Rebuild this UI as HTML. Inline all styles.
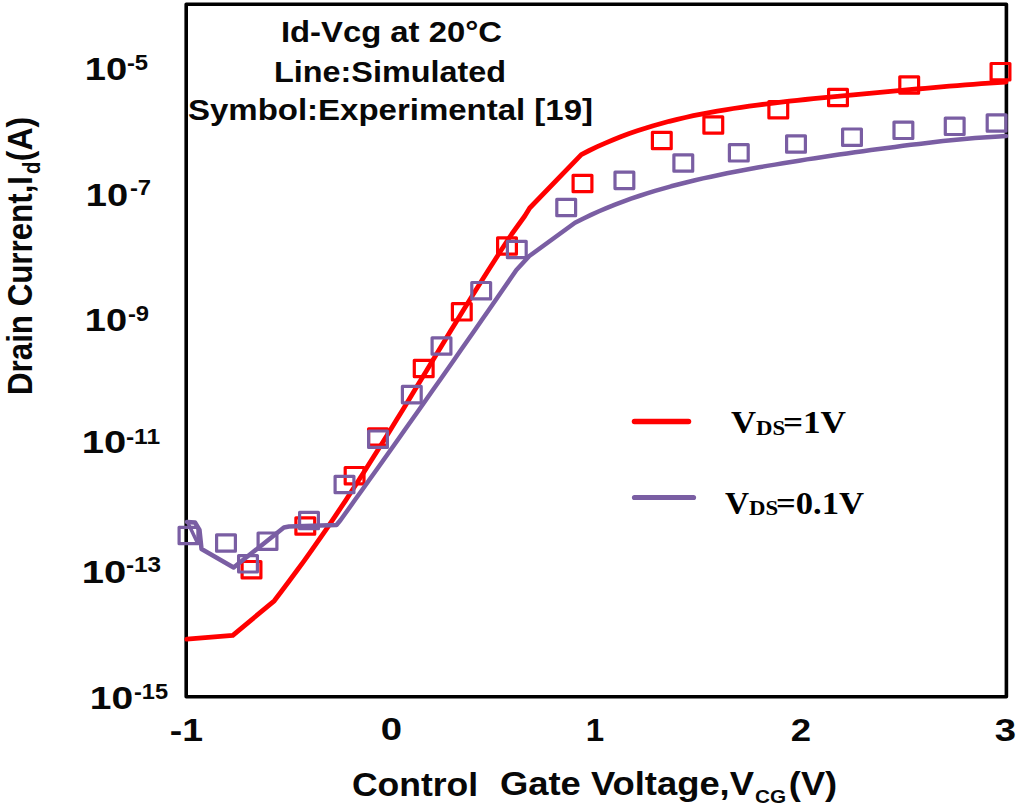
<!DOCTYPE html>
<html><head><meta charset="utf-8"><style>
html,body{margin:0;padding:0;background:#fff;width:1017px;height:806px;overflow:hidden}
svg{display:block}
</style></head><body>
<svg width="1017" height="806" viewBox="0 0 1017 806">
<g>
<rect x="0" y="0" width="1017" height="806" fill="#fff"/>
<rect x="186.2" y="4.2" width="820.2" height="692.5" fill="none" stroke="#000" stroke-width="3.6" stroke-linejoin="round"/>
<polyline points="186.8,639.2 232.8,635.4 274.3,600.8 281.9,590.8 289.4,580.8 296.8,570.8 304.1,560.8 311.2,550.8 318.2,540.8 325.2,530.8 332.0,520.8 338.7,510.8 345.4,500.8 351.9,490.8 358.4,480.8 364.8,470.8 371.1,460.8 377.4,450.8 383.7,440.8 389.9,430.8 396.0,420.8 402.2,410.8 408.3,400.8 414.3,390.8 420.4,380.8 426.5,370.8 432.5,360.8 438.6,350.8 444.7,340.8 450.7,330.8 456.9,320.8 463.0,310.8 469.2,300.8 475.4,290.8 481.7,280.8 488.0,270.8 494.4,260.8 500.8,250.8 507.3,240.8 511.8,234.0 524.8,216 529.7,208 581.3,154.6 589.3,150.5 597.3,146.7 605.3,143.1 613.3,139.7 621.3,136.5 629.3,133.5 637.3,130.8 645.3,128.2 653.3,125.7 661.3,123.5 669.3,121.3 677.3,119.3 685.3,117.5 693.3,115.7 701.3,114.1 709.3,112.6 717.3,111.1 725.3,109.8 733.3,108.5 741.3,107.3 749.3,106.2 757.3,105.1 765.3,104.1 773.3,103.1 781.3,102.1 789.3,101.2 797.3,100.4 805.3,99.5 813.3,98.7 821.3,97.9 829.3,97.1 837.3,96.3 845.3,95.6 853.3,94.8 861.3,94.1 869.3,93.3 877.3,92.6 885.3,91.9 893.3,91.1 901.3,90.4 909.3,89.7 917.3,89.0 925.3,88.3 933.3,87.6 941.3,86.9 949.3,86.2 957.3,85.6 965.3,84.9 973.3,84.3 981.3,83.7 989.3,83.1 997.3,82.5 1005.3,82.0 1006.0,82.0" fill="none" stroke="#FF0000" stroke-width="4.8" stroke-linejoin="round" stroke-linecap="round"/>
<rect x="242.1" y="561.5" width="18.8" height="16.4" fill="none" stroke="#FF0000" stroke-width="3.2" stroke-linejoin="round"/>
<rect x="295.9" y="517.8" width="18.8" height="16.4" fill="none" stroke="#FF0000" stroke-width="3.2" stroke-linejoin="round"/>
<rect x="345.2" y="467.5" width="18.8" height="16.4" fill="none" stroke="#FF0000" stroke-width="3.2" stroke-linejoin="round"/>
<rect x="368.6" y="428.8" width="18.8" height="16.4" fill="none" stroke="#FF0000" stroke-width="3.2" stroke-linejoin="round"/>
<rect x="414.3" y="360.3" width="18.8" height="16.4" fill="none" stroke="#FF0000" stroke-width="3.2" stroke-linejoin="round"/>
<rect x="452.4" y="303.6" width="18.8" height="16.4" fill="none" stroke="#FF0000" stroke-width="3.2" stroke-linejoin="round"/>
<rect x="497.6" y="237.8" width="18.8" height="16.4" fill="none" stroke="#FF0000" stroke-width="3.2" stroke-linejoin="round"/>
<rect x="573.1" y="175.3" width="18.8" height="16.4" fill="none" stroke="#FF0000" stroke-width="3.2" stroke-linejoin="round"/>
<rect x="652.4" y="132.3" width="18.8" height="16.4" fill="none" stroke="#FF0000" stroke-width="3.2" stroke-linejoin="round"/>
<rect x="703.9" y="116.8" width="18.8" height="16.4" fill="none" stroke="#FF0000" stroke-width="3.2" stroke-linejoin="round"/>
<rect x="768.9" y="101.5" width="18.8" height="16.4" fill="none" stroke="#FF0000" stroke-width="3.2" stroke-linejoin="round"/>
<rect x="828.6" y="89.3" width="18.8" height="16.4" fill="none" stroke="#FF0000" stroke-width="3.2" stroke-linejoin="round"/>
<rect x="899.8" y="76.8" width="18.8" height="16.4" fill="none" stroke="#FF0000" stroke-width="3.2" stroke-linejoin="round"/>
<rect x="991.1" y="63.5" width="18.8" height="16.4" fill="none" stroke="#FF0000" stroke-width="3.2" stroke-linejoin="round"/>
<polyline points="187,522 195,522.5 199.5,530 201.5,549 233.6,567.5 283.9,527.5 289,526.5 336.5,525 340.6,520.0 347.8,510.0 354.9,500.0 362.1,490.0 369.2,480.0 376.4,470.0 383.5,460.0 390.6,450.0 397.7,440.0 404.7,430.0 411.8,420.0 418.9,410.0 425.9,400.0 432.9,390.0 440.0,380.0 447.0,370.0 454.0,360.0 460.9,350.0 467.9,340.0 474.9,330.0 481.8,320.0 488.8,310.0 495.7,300.0 502.6,290.0 509.5,280.0 516.4,270.0 529.3,256 575.0,222.8 583.0,218.7 591.0,214.9 599.0,211.3 607.0,207.9 615.0,204.7 623.0,201.6 631.0,198.7 639.0,196.0 647.0,193.4 655.0,190.9 663.0,188.6 671.0,186.3 679.0,184.2 687.0,182.2 695.0,180.3 703.0,178.4 711.0,176.7 719.0,175.0 727.0,173.3 735.0,171.8 743.0,170.2 751.0,168.8 759.0,167.3 767.0,165.9 775.0,164.6 783.0,163.3 791.0,162.0 799.0,160.7 807.0,159.4 815.0,158.2 823.0,157.0 831.0,155.8 839.0,154.6 847.0,153.5 855.0,152.3 863.0,151.2 871.0,150.1 879.0,149.0 887.0,147.9 895.0,146.9 903.0,145.8 911.0,144.8 919.0,143.9 927.0,142.9 935.0,142.0 943.0,141.1 951.0,140.3 959.0,139.5 967.0,138.8 975.0,138.1 983.0,137.5 991.0,136.9 999.0,136.4 1006.0,136.1" fill="none" stroke="#7A5EA3" stroke-width="4.5" stroke-linejoin="round" stroke-linecap="round"/>
<polyline points="188,523 197.5,543" fill="none" stroke="#7A5EA3" stroke-width="3.5" stroke-linecap="round"/>
<rect x="179.1" y="527.3" width="18.8" height="16.4" fill="none" stroke="#7A5EA3" stroke-width="3.2" stroke-linejoin="round"/>
<rect x="216.6" y="534.8" width="18.8" height="16.4" fill="none" stroke="#7A5EA3" stroke-width="3.2" stroke-linejoin="round"/>
<rect x="258.1" y="533.0" width="18.8" height="16.4" fill="none" stroke="#7A5EA3" stroke-width="3.2" stroke-linejoin="round"/>
<rect x="238.6" y="555.6" width="18.8" height="16.4" fill="none" stroke="#7A5EA3" stroke-width="3.2" stroke-linejoin="round"/>
<rect x="299.6" y="512.3" width="18.8" height="16.4" fill="none" stroke="#7A5EA3" stroke-width="3.2" stroke-linejoin="round"/>
<rect x="335.1" y="476.3" width="18.8" height="16.4" fill="none" stroke="#7A5EA3" stroke-width="3.2" stroke-linejoin="round"/>
<rect x="368.6" y="431.0" width="18.8" height="16.4" fill="none" stroke="#7A5EA3" stroke-width="3.2" stroke-linejoin="round"/>
<rect x="402.4" y="386.4" width="18.8" height="16.4" fill="none" stroke="#7A5EA3" stroke-width="3.2" stroke-linejoin="round"/>
<rect x="432.1" y="337.8" width="18.8" height="16.4" fill="none" stroke="#7A5EA3" stroke-width="3.2" stroke-linejoin="round"/>
<rect x="471.8" y="282.5" width="18.8" height="16.4" fill="none" stroke="#7A5EA3" stroke-width="3.2" stroke-linejoin="round"/>
<rect x="507.4" y="241.3" width="18.8" height="16.4" fill="none" stroke="#7A5EA3" stroke-width="3.2" stroke-linejoin="round"/>
<rect x="556.8" y="199.3" width="18.8" height="16.4" fill="none" stroke="#7A5EA3" stroke-width="3.2" stroke-linejoin="round"/>
<rect x="615.0" y="172.2" width="18.8" height="16.4" fill="none" stroke="#7A5EA3" stroke-width="3.2" stroke-linejoin="round"/>
<rect x="673.9" y="154.8" width="18.8" height="16.4" fill="none" stroke="#7A5EA3" stroke-width="3.2" stroke-linejoin="round"/>
<rect x="729.4" y="144.6" width="18.8" height="16.4" fill="none" stroke="#7A5EA3" stroke-width="3.2" stroke-linejoin="round"/>
<rect x="786.6" y="135.8" width="18.8" height="16.4" fill="none" stroke="#7A5EA3" stroke-width="3.2" stroke-linejoin="round"/>
<rect x="842.6" y="129.0" width="18.8" height="16.4" fill="none" stroke="#7A5EA3" stroke-width="3.2" stroke-linejoin="round"/>
<rect x="894.0" y="122.1" width="18.8" height="16.4" fill="none" stroke="#7A5EA3" stroke-width="3.2" stroke-linejoin="round"/>
<rect x="945.3" y="118.1" width="18.8" height="16.4" fill="none" stroke="#7A5EA3" stroke-width="3.2" stroke-linejoin="round"/>
<rect x="987.2" y="114.8" width="18.8" height="16.4" fill="none" stroke="#7A5EA3" stroke-width="3.2" stroke-linejoin="round"/>
<line x1="634.5" y1="421.6" x2="688.5" y2="421.6" stroke="#FF0000" stroke-width="5.5" stroke-linecap="round"/>
<line x1="634.5" y1="497.5" x2="693.5" y2="497.5" stroke="#7A5EA3" stroke-width="5.2" stroke-linecap="round"/>
<text id="t1" font-family='"Liberation Sans", sans-serif' font-weight="bold" font-size="29" fill="#080808" textLength="221.06" lengthAdjust="spacingAndGlyphs" x="280.95" y="41.5">Id-Vcg at 20°C</text>
<text id="t2" font-family='"Liberation Sans", sans-serif' font-weight="bold" font-size="29" fill="#080808" textLength="232.10" lengthAdjust="spacingAndGlyphs" x="273.95" y="81.5">Line:Simulated</text>
<text id="t3" font-family='"Liberation Sans", sans-serif' font-weight="bold" font-size="29" fill="#080808" textLength="405.03" lengthAdjust="spacingAndGlyphs" x="187.98" y="120">Symbol:Experimental [19]</text>
<text id="y5a" font-family='"Liberation Sans", sans-serif' font-weight="bold" font-size="32" fill="#080808" textLength="42.41" lengthAdjust="spacingAndGlyphs" x="84.76" y="80.2">10</text>
<text id="y5b" font-family='"Liberation Sans", sans-serif' font-weight="bold" font-size="22.5" fill="#080808" textLength="21.17" lengthAdjust="spacingAndGlyphs" x="126.93" y="70.2">-5</text>
<text id="y7a" font-family='"Liberation Sans", sans-serif' font-weight="bold" font-size="32" fill="#080808" textLength="42.32" lengthAdjust="spacingAndGlyphs" x="85.82" y="205.6">10</text>
<text id="y7b" font-family='"Liberation Sans", sans-serif' font-weight="bold" font-size="22.5" fill="#080808" textLength="21.18" lengthAdjust="spacingAndGlyphs" x="129.90" y="195.2">-7</text>
<text id="y9a" font-family='"Liberation Sans", sans-serif' font-weight="bold" font-size="32" fill="#080808" textLength="42.28" lengthAdjust="spacingAndGlyphs" x="84.80" y="330.6">10</text>
<text id="y9b" font-family='"Liberation Sans", sans-serif' font-weight="bold" font-size="22.5" fill="#080808" textLength="21.18" lengthAdjust="spacingAndGlyphs" x="127.90" y="320.6">-9</text>
<text id="y11a" font-family='"Liberation Sans", sans-serif' font-weight="bold" font-size="32" fill="#080808" textLength="44.47" lengthAdjust="spacingAndGlyphs" x="81.68" y="453.4">10</text>
<text id="y11b" font-family='"Liberation Sans", sans-serif' font-weight="bold" font-size="22.5" fill="#080808" textLength="34.13" lengthAdjust="spacingAndGlyphs" x="125.93" y="443.5">-11</text>
<text id="y13a" font-family='"Liberation Sans", sans-serif' font-weight="bold" font-size="32" fill="#080808" textLength="44.47" lengthAdjust="spacingAndGlyphs" x="81.68" y="582.7">10</text>
<text id="y13b" font-family='"Liberation Sans", sans-serif' font-weight="bold" font-size="22.5" fill="#080808" textLength="35.18" lengthAdjust="spacingAndGlyphs" x="125.91" y="572.1">-13</text>
<text id="y15a" font-family='"Liberation Sans", sans-serif' font-weight="bold" font-size="32" fill="#080808" textLength="43.37" lengthAdjust="spacingAndGlyphs" x="89.73" y="708.9">10</text>
<text id="y15b" font-family='"Liberation Sans", sans-serif' font-weight="bold" font-size="22.5" fill="#080808" textLength="34.10" lengthAdjust="spacingAndGlyphs" x="133.96" y="698.9">-15</text>
<text id="xm1" font-family='"Liberation Sans", sans-serif' font-weight="bold" font-size="32" fill="#080808" textLength="33.25" lengthAdjust="spacingAndGlyphs" x="169.86" y="740.8">-1</text>
<text id="x0" font-family='"Liberation Sans", sans-serif' font-weight="bold" font-size="32" fill="#080808" textLength="21.29" lengthAdjust="spacingAndGlyphs" x="380.81" y="740.3">0</text>
<text id="x1" font-family='"Liberation Sans", sans-serif' font-weight="bold" font-size="32" fill="#080808" textLength="18.39" lengthAdjust="spacingAndGlyphs" x="585.73" y="740.5">1</text>
<text id="x2" font-family='"Liberation Sans", sans-serif' font-weight="bold" font-size="32" fill="#080808" textLength="20.32" lengthAdjust="spacingAndGlyphs" x="790.86" y="740.5">2</text>
<text id="x3" font-family='"Liberation Sans", sans-serif' font-weight="bold" font-size="32" fill="#080808" textLength="21.29" lengthAdjust="spacingAndGlyphs" x="994.88" y="740.5">3</text>
<text id="xt1" font-family='"Liberation Sans", sans-serif' font-weight="bold" font-size="33" fill="#080808" textLength="126.16" lengthAdjust="spacingAndGlyphs" x="351.94" y="795.9">Control</text>
<text id="xt2" font-family='"Liberation Sans", sans-serif' font-weight="bold" font-size="33" fill="#080808" textLength="254.02" lengthAdjust="spacingAndGlyphs" x="499.98" y="795.2">Gate Voltage,V</text>
<text id="xt3" font-family='"Liberation Sans", sans-serif' font-weight="bold" font-size="19" fill="#080808" textLength="31.12" lengthAdjust="spacingAndGlyphs" x="754.94" y="803.1">CG</text>
<text id="xt4" font-family='"Liberation Sans", sans-serif' font-weight="bold" font-size="33" fill="#080808" textLength="48.32" lengthAdjust="spacingAndGlyphs" x="788.83" y="795.2">(V)</text>
<text id="l1a" font-family='"Liberation Serif", serif' font-weight="bold" font-size="31.5" fill="#000" textLength="25.06" lengthAdjust="spacingAndGlyphs" x="730.98" y="432.6">V</text>
<text id="l1b" font-family='"Liberation Serif", serif' font-weight="bold" font-size="22" fill="#000" textLength="29.10" lengthAdjust="spacingAndGlyphs" x="755.94" y="435">DS</text>
<text id="l1c" font-family='"Liberation Serif", serif' font-weight="bold" font-size="31.5" fill="#000" textLength="63.11" lengthAdjust="spacingAndGlyphs" x="782.93" y="432.6">=1V</text>
<text id="l2a" font-family='"Liberation Serif", serif' font-weight="bold" font-size="31.5" fill="#000" textLength="24.05" lengthAdjust="spacingAndGlyphs" x="724.97" y="513.6">V</text>
<text id="l2b" font-family='"Liberation Serif", serif' font-weight="bold" font-size="22" fill="#000" textLength="29.13" lengthAdjust="spacingAndGlyphs" x="748.93" y="515.3">DS</text>
<text id="l2c" font-family='"Liberation Serif", serif' font-weight="bold" font-size="31.5" fill="#000" textLength="88.05" lengthAdjust="spacingAndGlyphs" x="775.96" y="513.6">=0.1V</text>
<text id="yt1" font-family='"Liberation Sans", sans-serif' font-weight="bold" font-size="35.5" fill="#080808" textLength="219.07" lengthAdjust="spacingAndGlyphs" transform="translate(31.5,0) rotate(-90)" x="-395.03" y="0">Drain Current,I</text>
<text id="yt2" font-family='"Liberation Sans", sans-serif' font-weight="bold" font-size="24" fill="#080808" textLength="12.36" lengthAdjust="spacingAndGlyphs" transform="translate(39.5,0) rotate(-90)" x="-174.07" y="0">d</text>
<text id="yt3" font-family='"Liberation Sans", sans-serif' font-weight="bold" font-size="35.5" fill="#080808" textLength="44.27" lengthAdjust="spacingAndGlyphs" transform="translate(31.5,0) rotate(-90)" x="-161.14" y="0">(A)</text>
</g>
</svg>
</body></html>
